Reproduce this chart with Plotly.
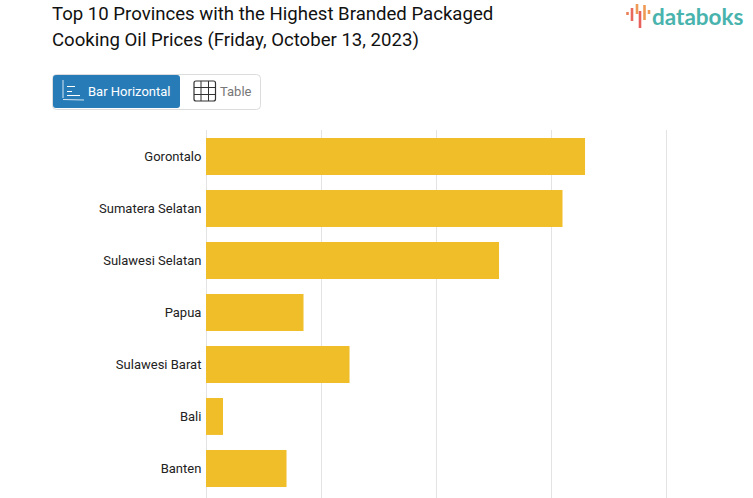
import plotly.graph_objects as go

provinces = ["Gorontalo", "Sumatera Selatan", "Sulawesi Selatan", "Papua",
             "Sulawesi Barat", "Bali", "Banten"]
prices = [3296, 3100, 2548, 848, 1248, 148, 700]
tick_step = 1000

W, H = 753, 498
L, R, T, B = 206, 53, 130, 0
plot_w, plot_h = W - L - R, H - T - B


def px(x):
    return (x - L) / plot_w


def py(y):
    return 1 - (y - T) / plot_h


def box(x0, y0, x1, y1, **kw):
    return dict(type="rect", xref="paper", yref="paper", x0=px(x0), x1=px(x1),
                y0=py(y0), y1=py(y1), **kw)


def rounded(x0, y0, x1, y1, r, rl=None, **kw):
    # Rounded rectangle; rl overrides the radius of the two left corners,
    # and the right corners use r.
    rl = r if rl is None else rl
    pts = [
        f"M{px(x0 + rl)},{py(y0)}", f"L{px(x1 - r)},{py(y0)}",
        f"Q{px(x1)},{py(y0)} {px(x1)},{py(y0 + r)}", f"L{px(x1)},{py(y1 - r)}",
        f"Q{px(x1)},{py(y1)} {px(x1 - r)},{py(y1)}", f"L{px(x0 + rl)},{py(y1)}",
        f"Q{px(x0)},{py(y1)} {px(x0)},{py(y1 - rl)}", f"L{px(x0)},{py(y0 + rl)}",
        f"Q{px(x0)},{py(y0)} {px(x0 + rl)},{py(y0)}", "Z",
    ]
    return dict(type="path", xref="paper", yref="paper", path=" ".join(pts), **kw)


def seg(x0, y0, x1, y1, color, width=1):
    return dict(type="line", xref="paper", yref="paper", x0=px(x0), x1=px(x1),
                y0=py(y0), y1=py(y1), line=dict(color=color, width=width))


def label(x, y, text, size, color, anchor="left", font="Roboto", weight="normal"):
    return dict(xref="paper", yref="paper", x=px(x), y=py(y), text=text, showarrow=False,
                xanchor=anchor, yanchor="middle", align="left",
                font=dict(family=font, size=size, color=color, weight=weight))


shapes = []

# Toggle control
shapes.append(rounded(52.5, 74.5, 260.5, 109.5, 4, line=dict(color="#dcdcdc", width=1),
                      fillcolor="white"))
shapes.append(rounded(53, 75, 180, 108, 3, line=dict(width=0), fillcolor="#277cb8"))

# Bar-chart glyph on the active button
shapes += [seg(63, 80, 63, 98, "#d5e6f2"), seg(63, 99.5, 84, 100, "#d5e6f2"),
           seg(67, 86.5, 75, 86.5, "#ffffff"), seg(67, 91.5, 72, 91.5, "#ffffff"),
           seg(67, 95.5, 80, 95.5, "#ffffff")]

# Table glyph
shapes.append(rounded(194, 81, 215.5, 101, 2, line=dict(color="#333333", width=1.2),
                      fillcolor="white"))
shapes += [seg(201, 81, 201, 101, "#333333"), seg(208.5, 81, 208.5, 101, "#333333"),
           seg(194, 87.5, 215.5, 87.5, "#333333"), seg(194, 94.5, 215.5, 94.5, "#333333")]

# Logo pulse mark
logo_bars = [(627.5, 12, 15, "#e9825a"), (632, 8, 21, "#e8695c"), (637, 4, 14, "#ee9a55"),
             (640, 11, 28, "#e8605c"), (644.5, 5, 20, "#ee9a55"), (649, 10, 14, "#ee9a55")]
for x, y0, y1, c in logo_bars:
    shapes.append(box(x - 1.3, y0, x + 1.3, y1, line=dict(width=0), fillcolor=c))

annotations = [
    label(50, 14, "Top 10 Provinces with the Highest Branded Packaged", 18.6, "#111111"),
    label(50, 40, "Cooking Oil Prices (Friday, October 13, 2023)", 18.6, "#111111"),
    label(86, 91.5, "Bar Horizontal", 13, "#ffffff"),
    label(218, 91.5, "Table", 13, "#777777"),
    label(650, 16, "databoks", 22.5, "#49b3ad", font="Lato", weight="bold"),
]

fig = go.Figure(go.Bar(
    y=provinces, x=prices, orientation="h", width=0.71,
    marker=dict(color="#f0be28", line=dict(width=0)),
    hoverinfo="y+x",
))

fig.update_layout(
    width=W, height=H, margin=dict(l=L, r=R, t=T, b=B, autoexpand=False),
    paper_bgcolor="white", plot_bgcolor="white", showlegend=False,
    font=dict(family="Roboto", size=13, color="#222222"),
    shapes=shapes, annotations=annotations,
    xaxis=dict(range=[0, plot_w / 115 * tick_step], dtick=tick_step, tick0=0,
               showgrid=True, gridcolor="#e3e3e3", gridwidth=1, zeroline=True,
               zerolinecolor="#e3e3e3", zerolinewidth=1, showticklabels=False,
               ticks="", showline=False, fixedrange=True),
    yaxis=dict(range=[6.568, -0.51], type="category", showgrid=False, zeroline=False,
               ticks="outside", ticklen=1, tickcolor="rgba(0,0,0,0)",
               tickfont=dict(family="Roboto", size=13, color="#222222"),
               showline=False, fixedrange=True),
)

fig.write_html("out.html", config=dict(displayModeBar=False))
